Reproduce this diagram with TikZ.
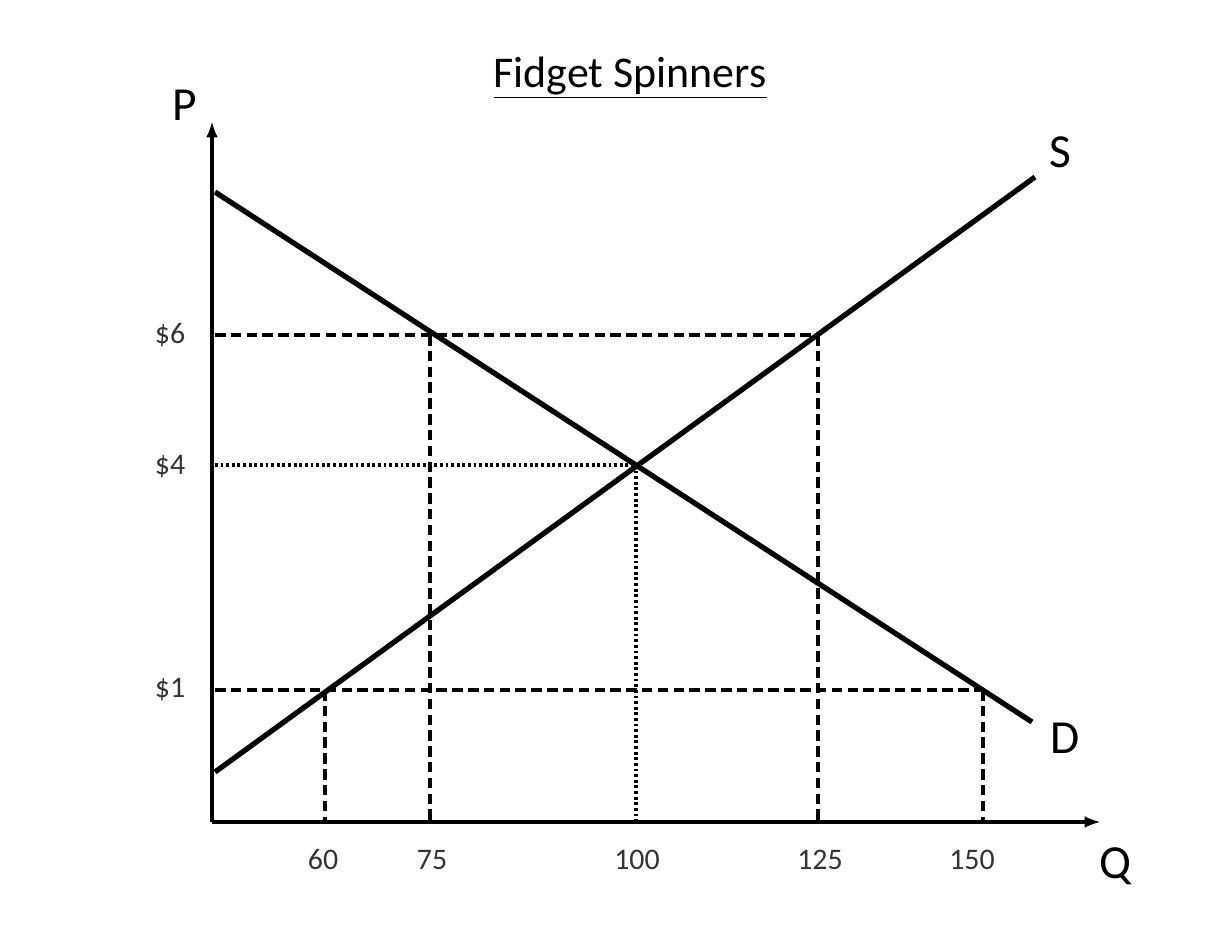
\documentclass[tikz,border=0pt]{standalone}
\usepackage{fontspec}
\setmainfont{Carlito}
\usetikzlibrary{positioning}

\tikzset{
    curve/.style={line width=3pt},
    guide/.style={line width=1.8pt, dash pattern=on 6pt off 3pt},
    eqguide/.style={line width=1.8pt, dash pattern=on 1.6pt off 1.6pt},
    ticklabel/.style={font=\fontsize{17}{17}\selectfont, text=black!80}
}

\begin{document}
\begin{tikzpicture}[x=0.02cm, y=-0.02cm]
        \useasboundingbox (0,0) rectangle (1224,940);

        % Assi
        \coordinate (origin) at (212,822);
        \coordinate (ytop) at (212,122);
        \coordinate (xend) at (1100,822);
        \draw[line width=2pt, -latex] (origin) -- (ytop);
        \draw[line width=2pt, -latex] (origin) -- (xend);
        \node[font=\fontsize{27}{27}\selectfont] (plabel) at (185,105) {P};
        \node[font=\fontsize{27}{27}\selectfont] (qlabel) at (1115,866) {Q};

        % Titolo
        \node[font=\fontsize{25}{25}\selectfont] (title) at (630,78) {\underline{Fidget Spinners}};

        % Curve di domanda e offerta
        \coordinate (d_start) at (215,192);
        \coordinate (d_end) at (1032,722);
        \coordinate (s_start) at (215,772);
        \coordinate (s_end) at (1035,177);
        \draw[curve] (d_start) -- (d_end);
        \draw[curve] (s_start) -- (s_end);
        \node[font=\fontsize{27}{27}\selectfont] (slabel) at (1060,152) {S};
        \node[font=\fontsize{27}{27}\selectfont] (dlabel) at (1065,738) {D};

        % Punti
        \coordinate (p6) at (215,335);
        \coordinate (p4) at (215,465);
        \coordinate (p1) at (215,690);
        \coordinate (a75) at (430,335);
        \coordinate (a125) at (818,335);
        \coordinate (eq) at (636,465);
        \coordinate (a60) at (325,690);
        \coordinate (a150) at (983,690);

        % Linee guida
        \draw[guide] (p6) -- (a125);
        \draw[guide] (p1) -- (a150);
        \draw[guide] (a75) -- (a75 |- origin);
        \draw[guide] (a125) -- (a125 |- origin);
        \draw[guide] (a60) -- (a60 |- origin);
        \draw[guide] (a150) -- (a150 |- origin);
        \draw[eqguide] (p4) -- (eq);
        \draw[eqguide] (eq) -- (eq |- origin);

        % Etichette
        \node[ticklabel] (l6) at (170,335) {\$6};
        \node[ticklabel] (l4) at (170,467) {\$4};
        \node[ticklabel] (l1) at (170,690) {\$1};
        \node[ticklabel] (l60) at (323,860) {60};
        \node[ticklabel] (l75) at (432,860) {75};
        \node[ticklabel] (l100) at (637,860) {100};
        \node[ticklabel] (l125) at (820,860) {125};
        \node[ticklabel] (l150) at (972,860) {150};
    \end{tikzpicture}
\end{document}
